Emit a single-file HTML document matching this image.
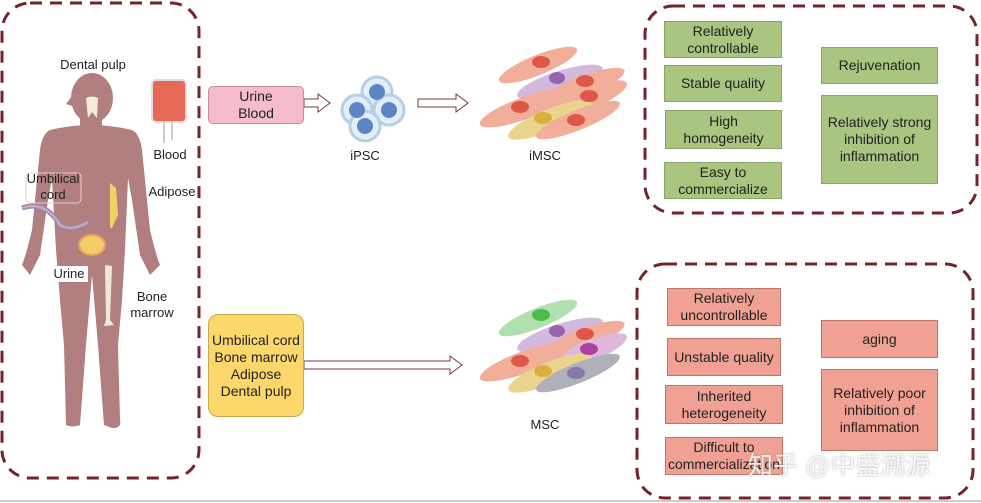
<!DOCTYPE html>
<html><head><meta charset="utf-8"><style>
body{margin:0;background:#fff;}
.wrap{position:relative;width:981px;height:503px;overflow:hidden;font-family:"Liberation Sans",Arial,sans-serif;}
.t{position:absolute;font-size:13px;color:#222;text-align:center;line-height:16px;}
.b{position:absolute;display:flex;align-items:center;justify-content:center;text-align:center;font-size:14px;line-height:17px;color:#222;box-sizing:border-box;}
.g{background:#a9c57f;border:1px solid #8aa56a;}
.p{background:#f0a193;border:1px solid #b9776c;}
</style></head><body><div class="wrap">
<svg width="981" height="503" style="position:absolute;left:0;top:0">
<rect x="2" y="3" width="197" height="475" rx="28" fill="none" stroke="#74232a" stroke-width="3" stroke-dasharray="12,8"/>
<rect x="645" y="6" width="332" height="207" rx="28" fill="none" stroke="#74232a" stroke-width="3" stroke-dasharray="12,8"/>
<rect x="637" y="264" width="336" height="234" rx="28" fill="none" stroke="#74232a" stroke-width="3" stroke-dasharray="12,8"/>
<line x1="0" y1="501" x2="981" y2="501" stroke="#ccc" stroke-width="2"/>
<!-- body -->
<g fill="#b17f7f">
<ellipse cx="92" cy="98" rx="21" ry="25"/>
<path d="M72 96 L66 104 L72 106Z"/>
<rect x="80" y="112" width="22" height="22"/>
<path d="M50 130 Q91 120 132 130 Q140 134 142 150 L150 230 Q156 255 160 265 L150 275 L140 255 L132 200 L128 178 L125 250 L122 300 L118 345 L120 420 Q122 428 112 428 L104 425 L98 345 L92 275 L86 345 L80 425 Q72 428 66 425 L64 345 L60 300 L56 250 L52 178 L48 200 L40 255 L30 275 L22 265 Q26 255 32 230 L40 150 Q42 134 50 130Z"/>
</g>
<path d="M86 98 Q92 95 98 98 L97 118 L92 112 L88 118Z" fill="#f5ecd8"/>
<path d="M110 183 L116 188 L118 215 L112 228 L110 228Z" fill="#f2d064"/>
<ellipse cx="92" cy="245" rx="13" ry="10" fill="#f4cd6a" stroke="#e9a060" stroke-width="2"/>
<path d="M22 208 Q45 200 60 225 Q72 232 88 222" fill="none" stroke="#8f90b0" stroke-width="5"/>
<path d="M22 208 Q45 200 60 225 Q72 232 88 222" fill="none" stroke="#d4a7c0" stroke-width="2"/>
<path d="M105 265 L112 266 L110 320 L114 325 L104 326 L106 320Z" fill="#efe8d8"/>
<!-- blood bag -->
<rect x="152" y="80" width="34" height="42" rx="4" fill="#e86856" stroke="#ddd" stroke-width="2"/>
<line x1="164" y1="122" x2="164" y2="143" stroke="#ccc" stroke-width="2"/><line x1="172" y1="122" x2="172" y2="140" stroke="#ccc" stroke-width="2"/>
<rect x="26" y="173" width="55" height="30" rx="4" fill="none" stroke="#eecbcb"/>
<!-- arrows -->
<path d="M304 99 L318 99 L318 94 L330 103 L318 112 L318 107 L304 107Z" fill="#fff" stroke="#7a3a3a"/>
<path d="M418 99 L456 99 L456 94 L468 103 L456 112 L456 107 L418 107Z" fill="#fff" stroke="#7a3a3a"/>
<path d="M304 361 L450 361 L450 356 L462 365 L450 374 L450 369 L304 369Z" fill="#fff" stroke="#7a3a3a"/>
<!-- iPSC -->
<g stroke="#b5d0e6" stroke-width="3" fill="#e2eef8">
<circle cx="377" cy="92" r="15"/><circle cx="357" cy="110" r="15"/><circle cx="389" cy="110" r="15"/><circle cx="365" cy="126" r="15"/></g>
<g fill="#5b85c4"><circle cx="377" cy="92" r="8"/><circle cx="357" cy="110" r="8"/><circle cx="389" cy="110" r="8"/><circle cx="365" cy="126" r="8"/></g>
<!-- iMSC -->
<g opacity="0.9">
<ellipse cx="538" cy="65" rx="42" ry="10" transform="rotate(-22 538 65)" fill="#f0a690"/>
<ellipse cx="560" cy="82" rx="45" ry="11" transform="rotate(-18 560 82)" fill="#cfb2d8"/>
<ellipse cx="585" cy="85" rx="42" ry="10" transform="rotate(-20 585 85)" fill="#f0a690"/>
<ellipse cx="585" cy="100" rx="45" ry="11" transform="rotate(-22 585 100)" fill="#f0a690"/>
<ellipse cx="525" cy="108" rx="48" ry="11" transform="rotate(-20 525 108)" fill="#f0a690"/>
<ellipse cx="550" cy="120" rx="45" ry="11" transform="rotate(-22 550 120)" fill="#e8cf80"/>
<ellipse cx="578" cy="120" rx="45" ry="10" transform="rotate(-22 578 120)" fill="#f0a690"/>
</g>
<g fill="#e0574a"><ellipse cx="541" cy="62" rx="9" ry="6"/><ellipse cx="585" cy="81" rx="9" ry="6"/><ellipse cx="589" cy="96" rx="9" ry="6"/><ellipse cx="520" cy="107" rx="9" ry="6"/><ellipse cx="576" cy="120" rx="9" ry="6"/></g>
<ellipse cx="557" cy="78" rx="8" ry="6" fill="#9a63b0"/><ellipse cx="543" cy="118" rx="9" ry="6" fill="#d9b040"/>
<!-- MSC -->
<g opacity="0.9">
<ellipse cx="538" cy="318" rx="42" ry="10" transform="rotate(-22 538 318)" fill="#a8dca8"/>
<ellipse cx="560" cy="335" rx="45" ry="11" transform="rotate(-18 560 335)" fill="#cfb2d8"/>
<ellipse cx="585" cy="338" rx="42" ry="10" transform="rotate(-20 585 338)" fill="#f0a690"/>
<ellipse cx="585" cy="353" rx="45" ry="11" transform="rotate(-22 585 353)" fill="#dcb0d8"/>
<ellipse cx="525" cy="362" rx="48" ry="11" transform="rotate(-20 525 362)" fill="#f0a690"/>
<ellipse cx="550" cy="373" rx="45" ry="11" transform="rotate(-22 550 373)" fill="#e8cf80"/>
<ellipse cx="578" cy="373" rx="45" ry="10" transform="rotate(-22 578 373)" fill="#a8a8b4"/>
</g>
<ellipse cx="541" cy="315" rx="9" ry="6" fill="#4cbc4c"/><ellipse cx="557" cy="331" rx="8" ry="6" fill="#9a63b0"/><ellipse cx="585" cy="334" rx="9" ry="6" fill="#e0574a"/><ellipse cx="589" cy="349" rx="9" ry="6" fill="#b040a0"/><ellipse cx="520" cy="361" rx="9" ry="6" fill="#e0574a"/><ellipse cx="543" cy="371" rx="9" ry="6" fill="#d9b040"/><ellipse cx="576" cy="373" rx="9" ry="6" fill="#8878a8"/>
</svg>
<div class="t" style="left:50px;top:57px;width:86px">Dental pulp</div>
<div class="t" style="left:145px;top:147px;width:50px">Blood</div>
<div class="t" style="left:145px;top:184px;width:54px">Adipose</div>
<div class="t" style="left:24px;top:171px;width:58px">Umbilical<br>cord</div>
<div class="t" style="left:50px;top:266px;width:38px;background:#fff">Urine</div>
<div class="t" style="left:126px;top:289px;width:52px">Bone<br>marrow</div>
<div class="b" style="left:208px;top:86px;width:96px;height:38px;background:#f5bccb;border:1px solid #c98a9a;border-radius:5px">Urine<br>Blood</div>
<div class="b" style="left:208px;top:314px;width:96px;height:103px;background:#fcd86c;border:1px solid #c9a84a;border-radius:10px">Umbilical cord<br>Bone marrow<br>Adipose<br>Dental pulp</div>
<div class="t" style="left:345px;top:148px;width:40px">iPSC</div>
<div class="t" style="left:520px;top:148px;width:50px">iMSC</div>
<div class="t" style="left:520px;top:417px;width:50px">MSC</div>
<div class="b g" style="left:664px;top:21px;width:118px;height:37px">Relatively<br>controllable</div>
<div class="b g" style="left:664px;top:65px;width:118px;height:37px">Stable quality</div>
<div class="b g" style="left:665px;top:110px;width:117px;height:39px">High<br>homogeneity</div>
<div class="b g" style="left:664px;top:162px;width:118px;height:37px">Easy to<br>commercialize</div>
<div class="b g" style="left:821px;top:47px;width:117px;height:37px">Rejuvenation</div>
<div class="b g" style="left:821px;top:95px;width:117px;height:89px">Relatively strong<br>inhibition of<br>inflammation</div>
<div class="b p" style="left:667px;top:288px;width:114px;height:38px">Relatively<br>uncontrollable</div>
<div class="b p" style="left:667px;top:338px;width:114px;height:38px">Unstable quality</div>
<div class="b p" style="left:665px;top:385px;width:118px;height:39px">Inherited<br>heterogeneity</div>
<div class="b p" style="left:665px;top:437px;width:118px;height:38px">Difficult to<br>commercialization</div>
<div class="b p" style="left:821px;top:320px;width:117px;height:38px">aging</div>
<div class="b p" style="left:821px;top:369px;width:117px;height:82px">Relatively poor<br>inhibition of<br>inflammation</div>
<div style="position:absolute;left:748px;top:446px;font-size:25px;color:rgba(255,255,255,0.85);font-family:'Liberation Sans','Noto Sans CJK SC',sans-serif;text-shadow:0 0 2px rgba(120,120,120,0.6)">知乎 @中盛溯源</div>
</div></body></html>
